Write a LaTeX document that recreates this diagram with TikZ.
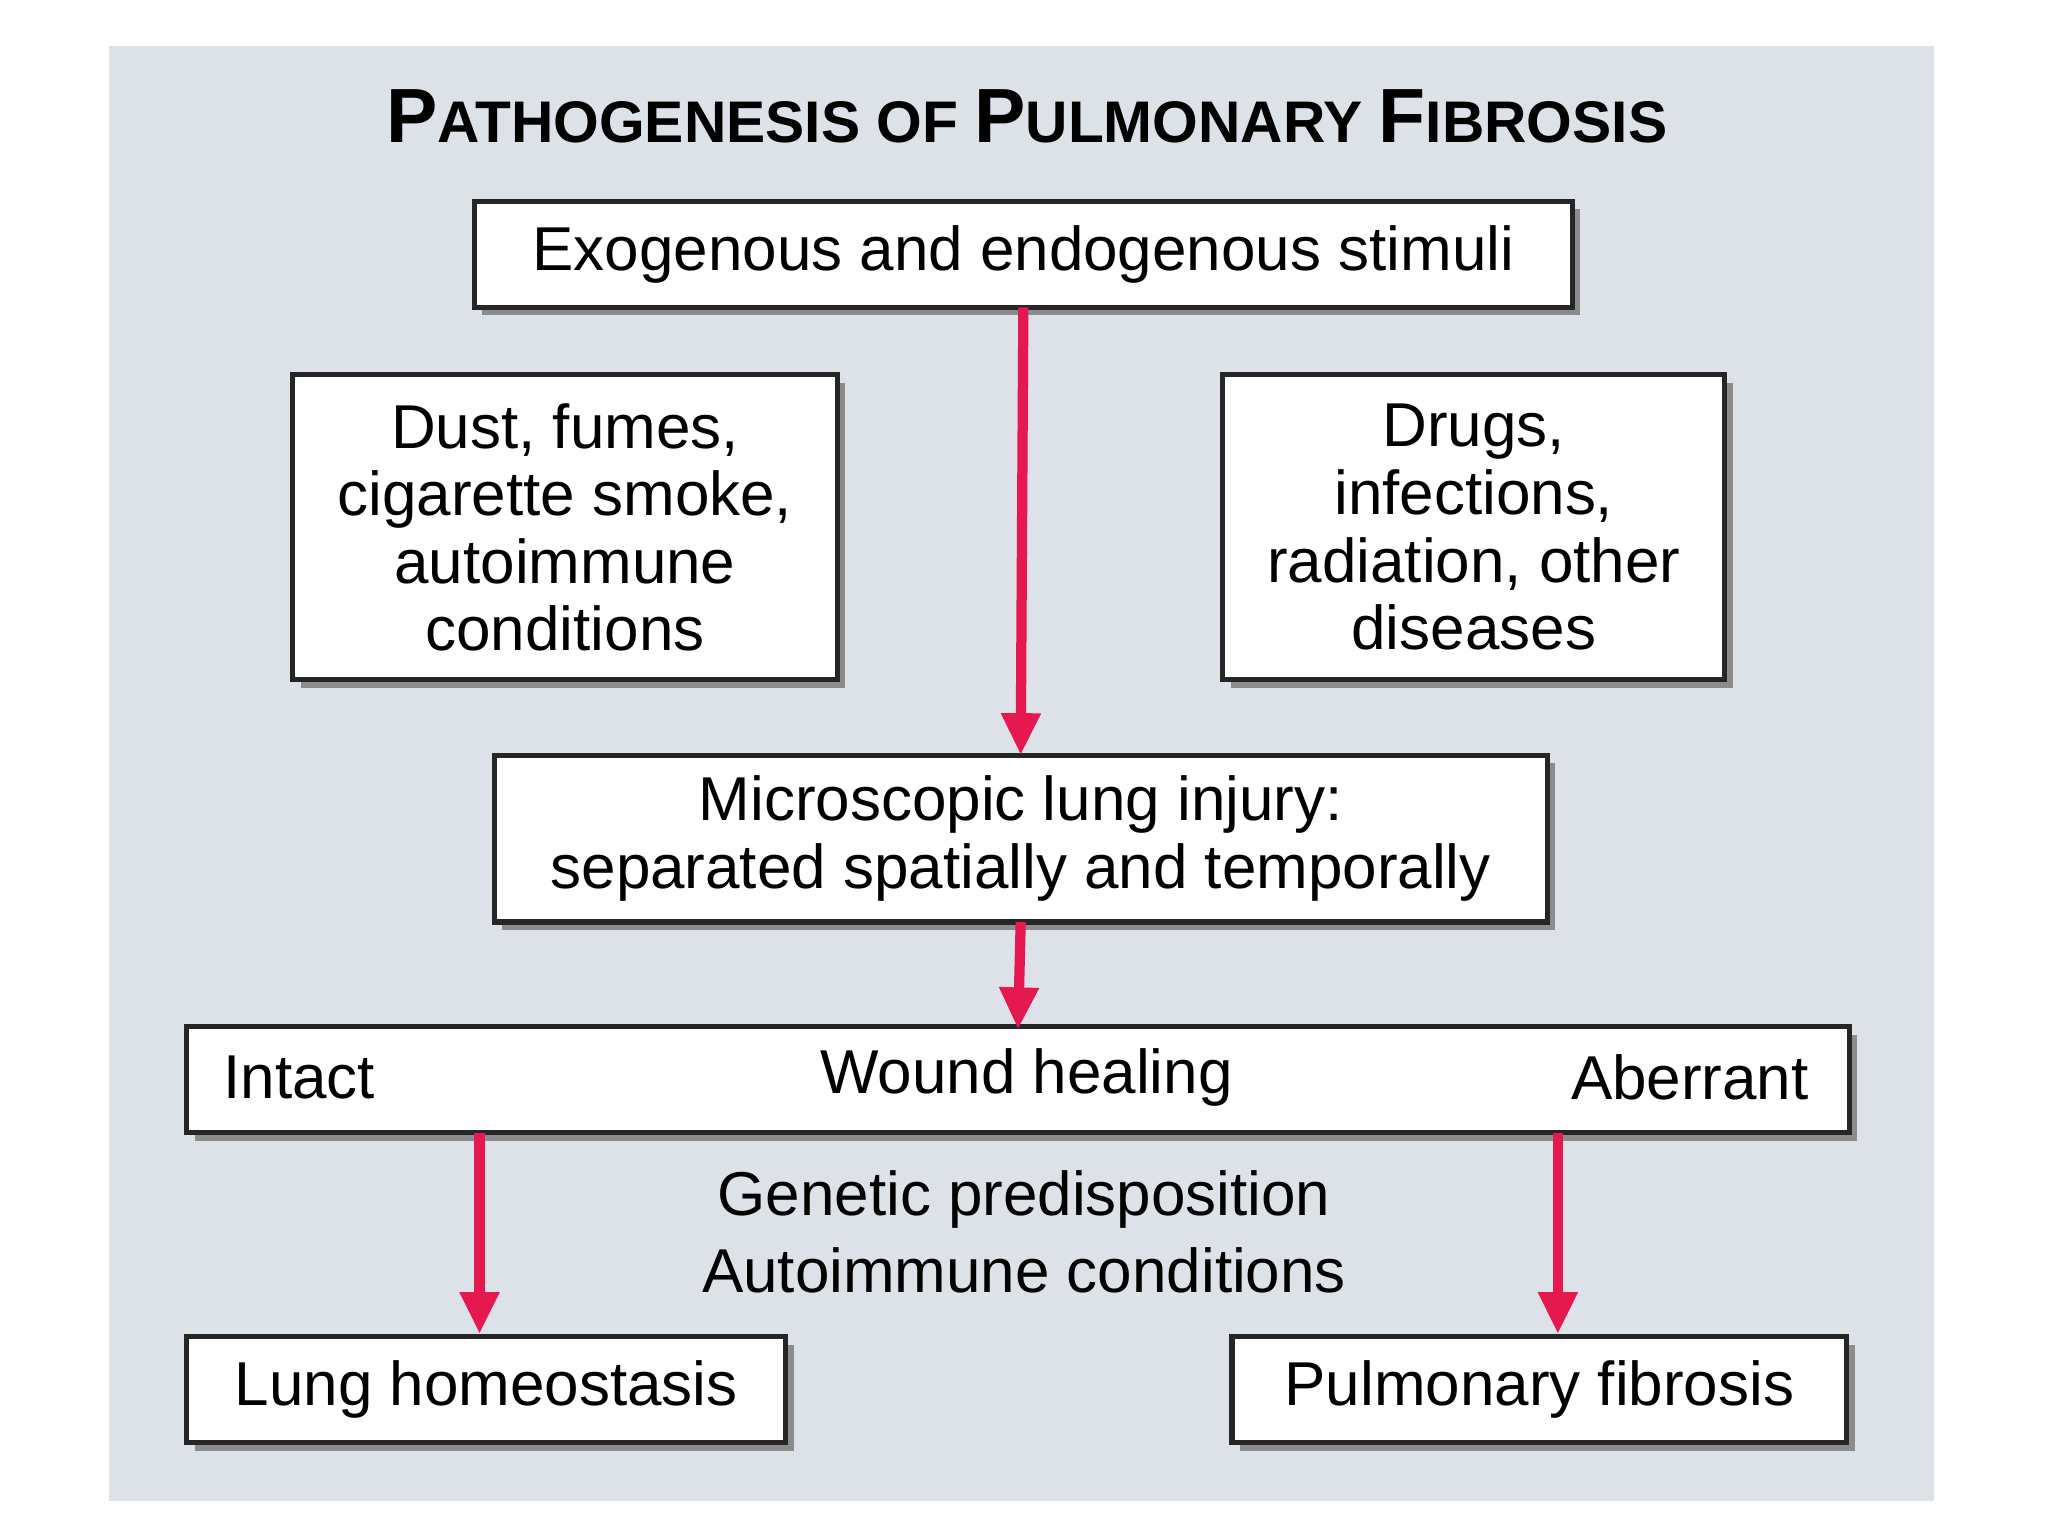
\documentclass[tikz,border=0pt]{standalone}
\usepackage{fontspec}
\setmainfont{Liberation Sans}
\usetikzlibrary{arrows.meta}
\definecolor{bg}{HTML}{DDE1E8}
\definecolor{arr}{HTML}{E5194F}
\begin{document}
\begin{tikzpicture}[x=0.01cm,y=-0.01cm,
 box/.style={draw=black!85,line width=1.1pt,fill=white},
 txt/.style={align=center,font=\fontsize{13.3}{14.5}\selectfont,inner sep=0pt},
 shad/.style={fill=black!45},
 ar/.style={draw=arr,line width=2.2pt,-{Triangle[length=9pt,width=8pt]}}]
\useasboundingbox (0,0) rectangle (1546,1160);
\fill[bg] (82,35) rectangle (1460,1133);
\node (title) at (775,88) {\bfseries\fontsize{16.5}{20}\selectfont P\fontsize{12.6}{20}\selectfont ATHOGENESIS OF \fontsize{16.5}{20}\selectfont P\fontsize{12.6}{20}\selectfont ULMONARY \fontsize{16.5}{20}\selectfont F\fontsize{12.6}{20}\selectfont IBROSIS};
\newcommand{\bx}[6]{%
 \fill[shad] (#1+6,#2+6) rectangle (#3+6,#4+6);
 \draw[box] (#1,#2) rectangle (#3,#4);
 \node[txt] (#5) at ({(#1+#3)/2},{(#2+#4)/2}) {#6};
 \coordinate (#5n) at ({(#1+#3)/2},#2);
 \coordinate (#5s) at ({(#1+#3)/2},#4);}
\bx{358}{152}{1187}{232}{stim}{Exogenous and endogenous stimuli}
\bx{221}{283}{632}{513}{dust}{Dust, fumes,\\cigarette smoke,\\autoimmune\\conditions}
\bx{923}{283}{1302}{513}{drugs}{Drugs,\\infections,\\radiation, other\\diseases}
\bx{373}{570}{1168}{696}{micro}{Microscopic lung injury:\\separated spatially and temporally}
\bx{141}{775}{1396}{855}{wound}{}
\bx{141}{1009}{593}{1089}{homeo}{Lung homeostasis}
\bx{930}{1009}{1394}{1089}{fib}{Pulmonary fibrosis}
\node[txt,anchor=west] (intact) at (168,813) {Intact};
\node[txt] (wh) at (775,813) {Wound healing};
\node[txt,anchor=east] (aberr) at (1366,813) {Aberrant};
\node[txt] (gen) at (773,930) {Genetic predisposition\\[2pt]Autoimmune conditions};
\coordinate (w1) at (362,855); \coordinate (h1) at (362,1007);
\coordinate (w2) at (1176,855); \coordinate (f1) at (1176,1007);
\draw[ar] (stims) -- (micron);
\draw[ar] (micros) -- ([yshift=-0.02cm]woundn);
\draw[ar] (w1) -- (h1);
\draw[ar] (w2) -- (f1);
\end{tikzpicture}
\end{document}
